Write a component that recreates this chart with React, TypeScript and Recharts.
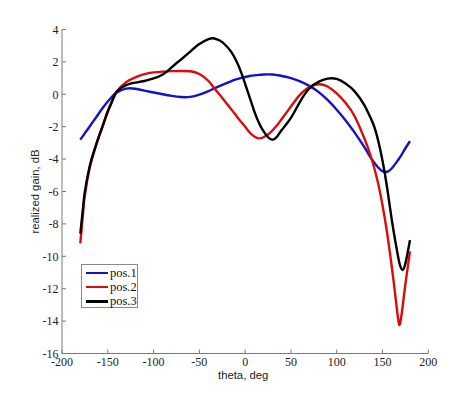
import React from 'react';
import { LineChart, Line, XAxis, YAxis, Legend } from 'recharts';

const theta = [-180,-177,-175,-170,-165,-160,-155,-150,-145,-140,-130,-120,-110,-100,-90,-80,-70,-60,-50,-40,-35,-30,-25,-20,-15,-10,-5,0,5,10,15,20,25,30,35,40,50,60,70,80,90,100,110,120,130,135,140,145,150,155,160,165,168,170,172,175,180];

const pos1 = [-2.8,-2.57,-2.4,-2.0,-1.6,-1.2,-0.8,-0.45,-0.12,0.12,0.35,0.34,0.23,0.11,0.0,-0.1,-0.17,-0.16,-0.02,0.2,0.33,0.46,0.58,0.7,0.82,0.92,1.0,1.07,1.13,1.17,1.2,1.22,1.23,1.22,1.18,1.13,1.0,0.8,0.52,0.15,-0.35,-0.95,-1.63,-2.4,-3.25,-3.72,-4.15,-4.5,-4.75,-4.78,-4.58,-4.22,-3.98,-3.8,-3.62,-3.33,-2.9];

const pos2 = [-9.2,-7.3,-6.2,-4.6,-3.55,-2.68,-1.88,-1.08,-0.4,0.18,0.75,1.05,1.25,1.35,1.4,1.43,1.44,1.42,1.25,0.82,0.47,0.12,-0.23,-0.58,-0.94,-1.3,-1.66,-2.0,-2.36,-2.6,-2.72,-2.65,-2.48,-2.22,-1.9,-1.52,-0.75,-0.02,0.45,0.62,0.48,0.05,-0.55,-1.4,-2.7,-3.45,-4.35,-5.45,-6.85,-8.55,-10.6,-12.9,-14.2,-13.9,-13.1,-11.7,-9.7];

const pos3 = [-8.6,-7.0,-6.0,-4.5,-3.5,-2.65,-1.85,-1.05,-0.38,0.18,0.57,0.72,0.82,0.98,1.22,1.68,2.15,2.63,3.1,3.4,3.46,3.38,3.22,2.95,2.6,2.1,1.45,0.65,-0.2,-1.05,-1.75,-2.28,-2.65,-2.8,-2.6,-2.2,-1.45,-0.45,0.36,0.77,0.97,0.95,0.65,0.15,-0.65,-1.22,-1.85,-2.8,-4.1,-5.75,-7.7,-9.4,-10.3,-10.7,-10.85,-10.45,-9.0];

const xTicks = [-200,-150,-100,-50,0,50,100,150,200];
const yTicks = [-16,-14,-12,-10,-8,-6,-4,-2,0,2,4];

const seriesNames = ['pos.1', 'pos.2', 'pos.3'];
const seriesColors = ['#1212c8', '#dc0b0b', '#000000'];

const data = theta.map((t, i) => ({ theta: t, p1: pos1[i], p2: pos2[i], p3: pos3[i] }));

const AXIS = '#7a7a7a';
const SERIF = '"Liberation Serif", "Times New Roman", serif';
const SANS = '"Liberation Sans", Arial, sans-serif';

const XLabel = (props: any) => {
  const vb = props.viewBox || {};
  return (
    <text x={vb.x + vb.width / 2 - 2} y={vb.y + 25} textAnchor="middle" fontFamily={SANS} fontSize={11.3} fill="#222">
      theta, deg
    </text>
  );
};

const YLabel = (props: any) => {
  const vb = props.viewBox || {};
  const cx = 35;
  const cy = vb.y + vb.height / 2;
  return (
    <text x={cx} y={cy} dy="0.35em" textAnchor="middle" transform={`rotate(-90, ${cx}, ${cy})`} fontFamily={SANS} fontSize={11.3} fill="#222">
      realized gain, dB
    </text>
  );
};

const LegendBox = () => (
  <div style={{ border: '1px solid #8a8a8a', background: '#fff', width: 57, height: 44, boxSizing: 'border-box', paddingTop: 1 }}>
    {seriesNames.map((n, i) => (
      <div key={n} style={{ display: 'flex', alignItems: 'center', height: 14.2 }}>
        <div style={{ marginLeft: 4, width: 22, height: 2.2, background: seriesColors[i] }} />
        <span style={{ marginLeft: 2, fontFamily: SERIF, fontSize: 12.5, color: '#111', lineHeight: '14px' }}>{n}</span>
      </div>
    ))}
  </div>
);

export default function App() {
  return (
    <div style={{ position: 'absolute', left: 0, top: 0, width: 474, height: 397, background: '#fff' }}>
      <LineChart width={474} height={397} data={data} margin={{ top: 29.5, right: 45.7, left: 22, bottom: 13.5 }}>
        <XAxis
          dataKey="theta"
          type="number"
          domain={[-200, 200]}
          ticks={xTicks}
          interval={0}
          height={30}
          tickSize={-4}
          tickMargin={8}
          axisLine={{ stroke: AXIS }}
          tickLine={{ stroke: AXIS }}
          tick={{ fill: '#222', fontFamily: SERIF, fontSize: 12 }}
          label={<XLabel />}
        />
        <YAxis
          type="number"
          domain={[-16, 4]}
          ticks={yTicks}
          interval={0}
          width={40}
          tickSize={-4}
          tickMargin={7.5}
          axisLine={{ stroke: AXIS }}
          tickLine={{ stroke: AXIS }}
          tick={{ fill: '#222', fontFamily: SERIF, fontSize: 12 }}
          label={<YLabel />}
        />
        <Legend
          layout="vertical"
          align="center"
          verticalAlign="middle"
          wrapperStyle={{ left: 81, top: 264, width: 'auto', height: 'auto' }}
          content={<LegendBox />}
        />
        <Line type="natural" dataKey="p1" name="pos.1" stroke={seriesColors[0]} strokeWidth={2.4} dot={false} isAnimationActive={false} />
        <Line type="natural" dataKey="p2" name="pos.2" stroke={seriesColors[1]} strokeWidth={2.4} dot={false} isAnimationActive={false} />
        <Line type="natural" dataKey="p3" name="pos.3" stroke={seriesColors[2]} strokeWidth={2.4} dot={false} isAnimationActive={false} />
      </LineChart>
    </div>
  );
}
